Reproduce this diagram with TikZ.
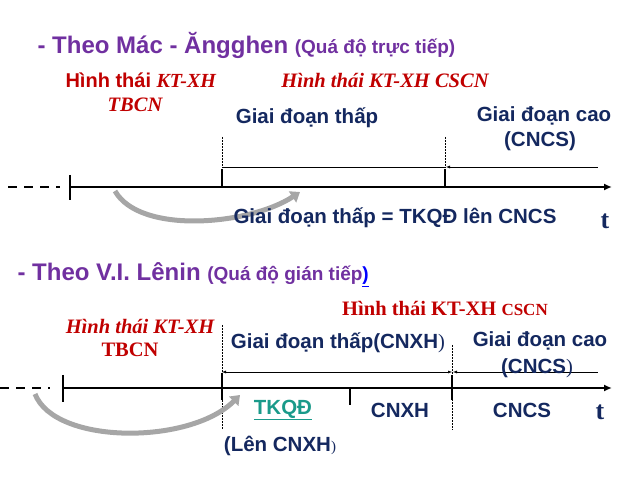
\documentclass[tikz,border=0pt]{standalone}
\usepackage{fontspec}
\setmainfont{Liberation Sans}
\newfontfamily\serif{Liberation Serif}
\usetikzlibrary{arrows.meta}
\definecolor{pur}{HTML}{7030A0}
\definecolor{dred}{HTML}{C00000}
\definecolor{navy}{HTML}{14285F}
\definecolor{teal2}{HTML}{1A9A8A}
\begin{document}
\begin{tikzpicture}[x=1pt,y=-1pt,
  nv/.style={text=navy,font=\fontsize{20.5}{22}\selectfont\bfseries},
  rd/.style={text=dred,font=\serif\fontsize{20.5}{22}\selectfont\bfseries},
  ri/.style={text=dred,font=\serif\fontsize{20.5}{22}\selectfont\bfseries\itshape},
  axis/.style={line width=1.8pt,-{Latex[length=8pt,width=7pt]}},
  tk/.style={line width=1.4pt},
  brk/.style={line width=0.5pt},
  dot/.style={densely dotted,line width=0.5pt},
  curv/.style={line width=5pt,gray!70,-{Triangle[length=9pt,width=13pt]}}]
\useasboundingbox (0,0) rectangle (638,478);
% ---- top
\node[anchor=west,text=pur,font=\fontsize{24}{26}\selectfont\bfseries] (t1) at (34,45) {- Theo Mác - Ăngghen {\fontsize{19}{22}\selectfont(Quá độ trực tiếp)}};
\coordinate (a0) at (70,187); \coordinate (a1) at (612,187);
\draw[line width=1.8pt,dash pattern=on 9pt off 7pt] (8,187) -- (60,187);
\draw[axis] (a0) -- (a1);
\draw[tk] (70,175) -- (70,200);
\draw[tk] (222,169) -- (222,187);
\draw[tk] (445,169) -- (445,187);
\draw[brk] (222,167) -- (445,167);
\draw[brk,{Latex[length=4pt,width=3pt]}-] (446,167) -- (598,167);
\draw[dot] (222,137) -- (222,168);
\draw[dot] (445,137) -- (445,168);
\draw[curv] (115,191) .. controls (140,235) and (250,225) .. (300,192);
\node[text=dred,font=\fontsize{20}{22}\selectfont\bfseries] (h1) at (141,80) {Hình thái \textit{\serif KT-XH}};
\node[ri] (h2) at (135,105) {TBCN};
\node[ri] (h3) at (385,80) {Hình thái KT-XH CSCN};
\node[nv] (g1) at (307,118) {Giai đoạn thấp};
\node[nv] (g2) at (544,116) {Giai đoạn cao};
\node[nv] (g3) at (540,141) {(CNCS)};
\node[nv] (eq) at (395,218) {Giai đoạn thấp = TKQĐ lên CNCS};
\node[text=navy,font=\serif\fontsize{26}{26}\selectfont\bfseries] (tt1) at (605,221) {t};
% ---- bottom
\node[anchor=west,text=pur,font=\fontsize{24}{26}\selectfont\bfseries] (t2) at (14,275) {- Theo V.I. Lênin {\fontsize{19}{22}\selectfont(Quá độ gián tiếp\textcolor{blue}{\underline{)}}}};
\coordinate (b0) at (63,388); \coordinate (b1) at (612,388);
\draw[line width=1.8pt,dash pattern=on 9pt off 7pt] (0,388) -- (50,388);
\draw[axis] (b0) -- (b1);
\draw[tk] (63,375) -- (63,402);
\draw[tk] (222,373) -- (222,400);
\draw[tk] (350,388) -- (350,405);
\draw[tk] (452,375) -- (452,400);
\draw[brk,{Latex[length=4pt,width=3pt]}-{Latex[length=4pt,width=3pt]}] (222,372) -- (452,372);
\draw[brk,{Latex[length=4pt,width=3pt]}-] (453,372) -- (598,372);
\draw[dot] (222,325) -- (222,430);
\draw[dot] (452,345) -- (452,430);
\draw[curv] (35,394) .. controls (55,445) and (190,445) .. (240,395);
\node[rd] (h4) at (445,308) {Hình thái KT-XH {\fontsize{17}{18}\selectfont CSCN}};
\node[ri] (h5) at (140,326) {Hình thái KT-XH};
\node[rd] (h6) at (130,350) {TBCN};
\node[nv] (g4) at (338,343) {Giai đoạn thấp(CNXH{\mdseries\serif)}};
\node[nv] (g5) at (540,341) {Giai đoạn cao};
\node[nv] (g6) at (537,368) {(CNCS{\mdseries\serif)}};
\node[nv,text=teal2] (k1) at (283,410) {\underline{TKQĐ}};
\node[nv] (k2) at (400,410) {CNXH};
\node[nv] (k3) at (522,410) {CNCS};
\node[text=navy,font=\serif\fontsize{26}{26}\selectfont\bfseries] (tt2) at (600,412) {t};
\node[nv] (k4) at (280,446) {(Lên CNXH{\mdseries\serif\fontsize{15}{16}\selectfont)}};
\end{tikzpicture}
\end{document}
